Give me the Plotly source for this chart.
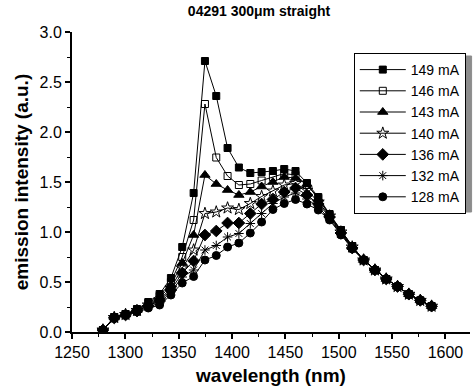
import plotly.graph_objects as go

wavelength = [1279.0, 1289.6, 1300.2, 1310.9, 1321.5, 1332.1, 1342.7, 1353.3, 1364.0, 1374.6,
              1385.2, 1395.8, 1406.4, 1417.1, 1427.7, 1438.3, 1448.9, 1459.5, 1470.2, 1480.8,
              1491.4, 1502.0, 1512.6, 1523.3, 1533.9, 1544.5, 1555.1, 1565.7, 1576.4, 1587.0]

tail = [0.72, 0.62, 0.53, 0.455, 0.378, 0.316, 0.258]

i149 = [0.02, 0.15, 0.18, 0.23, 0.30, 0.38, 0.54, 0.85, 1.39, 2.71,
        2.36, 1.84, 1.645, 1.59, 1.60, 1.61, 1.63, 1.61, 1.49, 1.35,
        1.18, 1.02, 0.86] + tail
i146 = [0.02, 0.15, 0.18, 0.225, 0.29, 0.36, 0.50, 0.75, 1.12, 2.28,
        1.745, 1.56, 1.47, 1.48, 1.515, 1.55, 1.585, 1.57, 1.47, 1.34,
        1.17, 1.02, 0.86] + tail
i143 = [0.02, 0.145, 0.175, 0.22, 0.28, 0.34, 0.47, 0.69, 0.97, 1.57,
        1.48, 1.42, 1.37, 1.40, 1.455, 1.50, 1.55, 1.54, 1.48, 1.33,
        1.17, 1.01, 0.85] + tail
i140 = [0.02, 0.145, 0.175, 0.215, 0.27, 0.32, 0.44, 0.64, 0.82, 1.185,
        1.20, 1.24, 1.225, 1.285, 1.355, 1.41, 1.47, 1.485, 1.42, 1.30,
        1.16, 1.00, 0.85] + tail
i136 = [0.02, 0.14, 0.17, 0.21, 0.26, 0.31, 0.42, 0.59, 0.71, 0.97,
        1.01, 1.09, 1.09, 1.185, 1.28, 1.325, 1.40, 1.44, 1.37, 1.28,
        1.15, 0.99, 0.84] + tail
i132 = [0.02, 0.14, 0.17, 0.205, 0.25, 0.29, 0.40, 0.55, 0.62, 0.82,
        0.865, 0.95, 0.985, 1.085, 1.185, 1.285, 1.35, 1.39, 1.33, 1.25,
        1.13, 0.98, 0.84] + tail
i128 = [0.02, 0.135, 0.165, 0.20, 0.24, 0.27, 0.37, 0.49, 0.555, 0.72,
        0.765, 0.85, 0.89, 0.99, 1.10, 1.225, 1.285, 1.325, 1.28, 1.22,
        1.12, 0.97, 0.83] + tail

series_names = ["149 mA", "146 mA", "143 mA", "140 mA", "136 mA", "132 mA", "128 mA"]
series_values = [i149, i146, i143, i140, i136, i132, i128]
symbols = ["square", "square-open", "triangle-up", "star-open", "diamond", "asterisk-open", "circle"]
sizes = [7, 7, 9, 9, 9, 8, 8]

x_ticks = [1250, 1300, 1350, 1400, 1450, 1500, 1550, 1600]
y_ticks = [0.0, 0.5, 1.0, 1.5, 2.0, 2.5, 3.0]

FONT = "Arial, Liberation Sans, sans-serif"

fig = go.Figure()
for name, vals, sym, sz in zip(series_names, series_values, symbols, sizes):
    fig.add_trace(go.Scatter(
        x=wavelength, y=vals, name=name, mode="lines+markers",
        line=dict(color="black", width=1),
        marker=dict(symbol=sym, size=sz, color="black",
                    line=dict(color="black", width=1)),
    ))

fig.update_layout(
    width=474, height=389,
    margin=dict(l=72, r=4, t=32, b=57),
    paper_bgcolor="white", plot_bgcolor="white",
    font=dict(family=FONT, color="black", size=16),
    title=dict(text="<b>04291 300\u03bcm straight</b>", x=0.47, xref="paper",
               xanchor="center", y=0.972, yanchor="middle",
               font=dict(size=14, family=FONT, color="black")),
    showlegend=True,
    legend=dict(x=0.708, y=0.93, xanchor="left", yanchor="top",
                bgcolor="white", bordercolor="black", borderwidth=1,
                font=dict(size=14, family=FONT, color="black"),
                itemwidth=46, tracegroupgap=0),
    # legend drop shadow
    shapes=[dict(type="rect", xref="paper", yref="paper",
                 x0=0.716, x1=1.004, y0=0.40, y1=0.92,
                 fillcolor="#8c8c8c", line=dict(color="#8c8c8c", width=1),
                 layer="above")],
)

fig.update_xaxes(
    range=[1250, 1623], tickvals=x_ticks, ticktext=[str(v) for v in x_ticks],
    showgrid=False, zeroline=False, showline=True, linecolor="black", linewidth=2,
    ticks="outside", ticklen=5, tickwidth=1.5, tickcolor="black",
    minor=dict(dtick=25, tick0=1250, ticks="outside", ticklen=3, tickwidth=1, tickcolor="black"),
    tickfont=dict(size=16, family=FONT),
    title=dict(text="<b>wavelength (nm)</b>", font=dict(size=19, family=FONT), standoff=8),
)
fig.update_yaxes(
    range=[0, 3], tickvals=y_ticks, ticktext=["%.1f" % v for v in y_ticks],
    showgrid=False, zeroline=False, showline=True, linecolor="black", linewidth=2,
    ticks="outside", ticklen=5, tickwidth=1.5, tickcolor="black",
    minor=dict(dtick=0.25, tick0=0, ticks="outside", ticklen=3, tickwidth=1, tickcolor="black"),
    tickfont=dict(size=16, family=FONT),
    title=dict(text="<b>emission intensity (a.u.)</b>", font=dict(size=19, family=FONT), standoff=6),
)

fig.write_html("out.html", config={"displayModeBar": False},
               post_script="document.body.style.margin='0';")
